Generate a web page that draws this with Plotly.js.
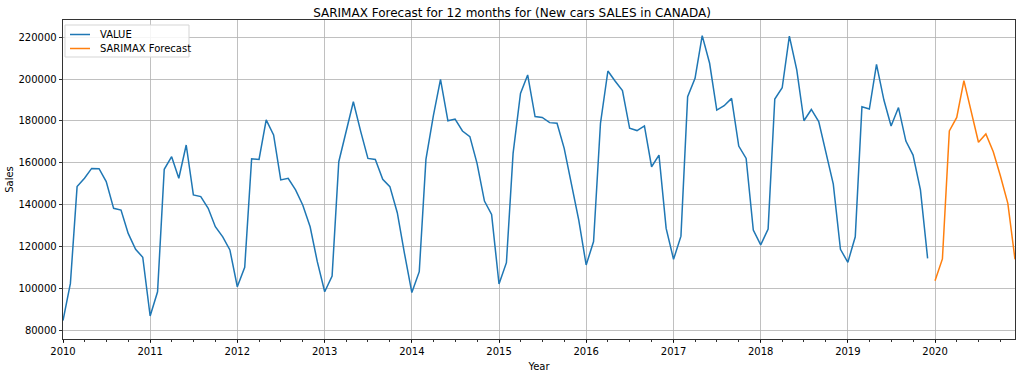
<!DOCTYPE html>
<html>
<head>
<meta charset="utf-8">
<script src="https://cdn.plot.ly/plotly-3.0.1.min.js"></script>
<style>
html,body{margin:0;padding:0;background:#fff;}
#chart{width:1024px;height:373px;}
</style>
</head>
<body>
<div id="chart"></div>
<script>
// Monthly new car sales in Canada, Jan 2010 - Dec 2019
const valueStart = "2010-01";
const salesValues = [
  84500, 102300, 148600, 152600, 157300, 157200, 151000, 138200, 137400, 126200, 118600, 114800,
  86700, 98300, 156900, 162900, 152600, 168500, 144600, 143800, 138200, 129400, 124600, 118300,
  100700, 110000, 161900, 161600, 180500, 173300, 151800, 152600, 147000, 139800, 129400, 112700,
  98300, 105800, 160500, 174900, 189200, 174900, 162100, 161600, 152100, 148600, 136100, 116700,
  97900, 107900, 161600, 182400, 199900, 180100, 180900, 175200, 172500, 159700, 141700, 135300,
  102000, 112200, 164500, 193200, 202000, 182100, 181700, 179200, 178900, 166900, 149400, 132600,
  111100, 122300, 178900, 203900, 199100, 194500, 176500, 175400, 177600, 158100, 163700, 128600,
  113800, 124900, 191600, 200400, 220800, 207600, 185200, 187300, 190800, 168000, 162100, 127800,
  120700, 128300, 190500, 195900, 220600, 204400, 180100, 185500, 179700, 165300, 149800, 118600,
  112400, 124600, 186800, 185700, 207100, 190000, 177600, 186400, 170400, 163700, 147000, 114300
];
// SARIMAX forecast, Jan 2020 - Dec 2020
const forecastStart = "2020-01";
const forecastValues = [
  103600, 114000, 175200, 181700, 199300, 184500, 169800, 173800, 165300, 153700, 140600, 113800
];
const seriesNames = ["VALUE", "SARIMAX Forecast"];
const seriesColors = ["#1f77b4", "#ff7f0e"];
const yTickVals = [80000, 100000, 120000, 140000, 160000, 180000, 200000, 220000];
const xTickLabels = ["2010","2011","2012","2013","2014","2015","2016","2017","2018","2019","2020"];

function monthDates(start, n) {
  const [y0, m0] = start.split("-").map(Number);
  const out = [];
  for (let i = 0; i < n; i++) {
    const t = (m0 - 1) + i;
    const y = y0 + Math.floor(t / 12);
    const m = (t % 12) + 1;
    out.push(y + "-" + String(m).padStart(2, "0") + "-01");
  }
  return out;
}

const valueDates = monthDates(valueStart, salesValues.length);
const forecastDates = monthDates(forecastStart, forecastValues.length);

const traces = [
  {x: valueDates, y: salesValues, type: "scatter", mode: "lines", name: seriesNames[0],
   line: {color: seriesColors[0], width: 1.5}},
  {x: forecastDates, y: forecastValues, type: "scatter", mode: "lines", name: seriesNames[1],
   line: {color: seriesColors[1], width: 1.5}}
];

const font = "DejaVu Sans, sans-serif";

// Plot area geometry (pixels) used to place a matplotlib-style legend box
const W = 1024, H = 373, mL = 63, mR = 9, mT = 20, mB = 34;
const pw = W - mL - mR, ph = H - mT - mB;
const px = v => (v - mL) / pw;
const py = v => (H - mB - v) / ph;

const legendShapes = [
  {type: "rect", xref: "paper", yref: "paper", x0: px(65), x1: px(189), y0: py(57), y1: py(25),
   line: {color: "#d5d5d5", width: 1}, fillcolor: "rgba(255,255,255,0.85)", layer: "above"}
];
const legendAnnotations = [];
seriesNames.forEach((name, i) => {
  const yy = 34.5 + i * 14;
  legendShapes.push({type: "line", xref: "paper", yref: "paper", x0: px(70), x1: px(90),
    y0: py(yy), y1: py(yy), line: {color: seriesColors[i], width: 1.5}, layer: "above"});
  legendAnnotations.push({xref: "paper", yref: "paper", x: px(98), y: py(yy), xanchor: "left",
    yanchor: "middle", showarrow: false, text: name,
    font: {family: font, size: 10, color: "#000"}});
});

const layout = {
  width: W, height: H,
  margin: {l: mL, r: mR, t: mT, b: mB},
  paper_bgcolor: "#fff", plot_bgcolor: "#fff",
  font: {family: font, size: 10, color: "#262626"},
  title: {text: "SARIMAX Forecast for 12 months for (New cars SALES in CANADA)",
          font: {family: font, size: 12, color: "#000"}, x: 0.5, xanchor: "center", y: 0.967, yanchor: "middle"},
  showlegend: false,
  shapes: legendShapes,
  annotations: legendAnnotations,
  xaxis: {
    type: "date",
    range: [valueDates[0], forecastDates[forecastDates.length - 1]],
    tickvals: xTickLabels.map(y => y + "-01-01"),
    ticktext: xTickLabels,
    ticks: "outside", ticklen: 3.5, tickwidth: 0.8, tickcolor: "#000",
    showgrid: true, gridcolor: "#b0b0b0", gridwidth: 0.8,
    showline: true, linecolor: "#000", linewidth: 0.8, mirror: true,
    zeroline: false,
    minor: {dtick: "M3", ticks: "outside", ticklen: 2, tickcolor: "#000", showgrid: false},
    tickfont: {family: font, size: 10, color: "#000"},
    title: {text: "Year", font: {family: font, size: 10, color: "#000"}, standoff: 6}
  },
  yaxis: {
    range: [75700, 228300],
    tickvals: yTickVals,
    tickformat: "d",
    ticks: "outside", ticklen: 3.5, tickwidth: 0.8, tickcolor: "#000",
    showgrid: true, gridcolor: "#b0b0b0", gridwidth: 0.8,
    showline: true, linecolor: "#000", linewidth: 0.8, mirror: true,
    zeroline: false,
    tickfont: {family: font, size: 10, color: "#000"},
    title: {text: "Sales", font: {family: font, size: 10, color: "#000"}, standoff: 2}
  }
};

Plotly.newPlot("chart", traces, layout, {displayModeBar: false, staticPlot: true});
</script>
</body>
</html>
